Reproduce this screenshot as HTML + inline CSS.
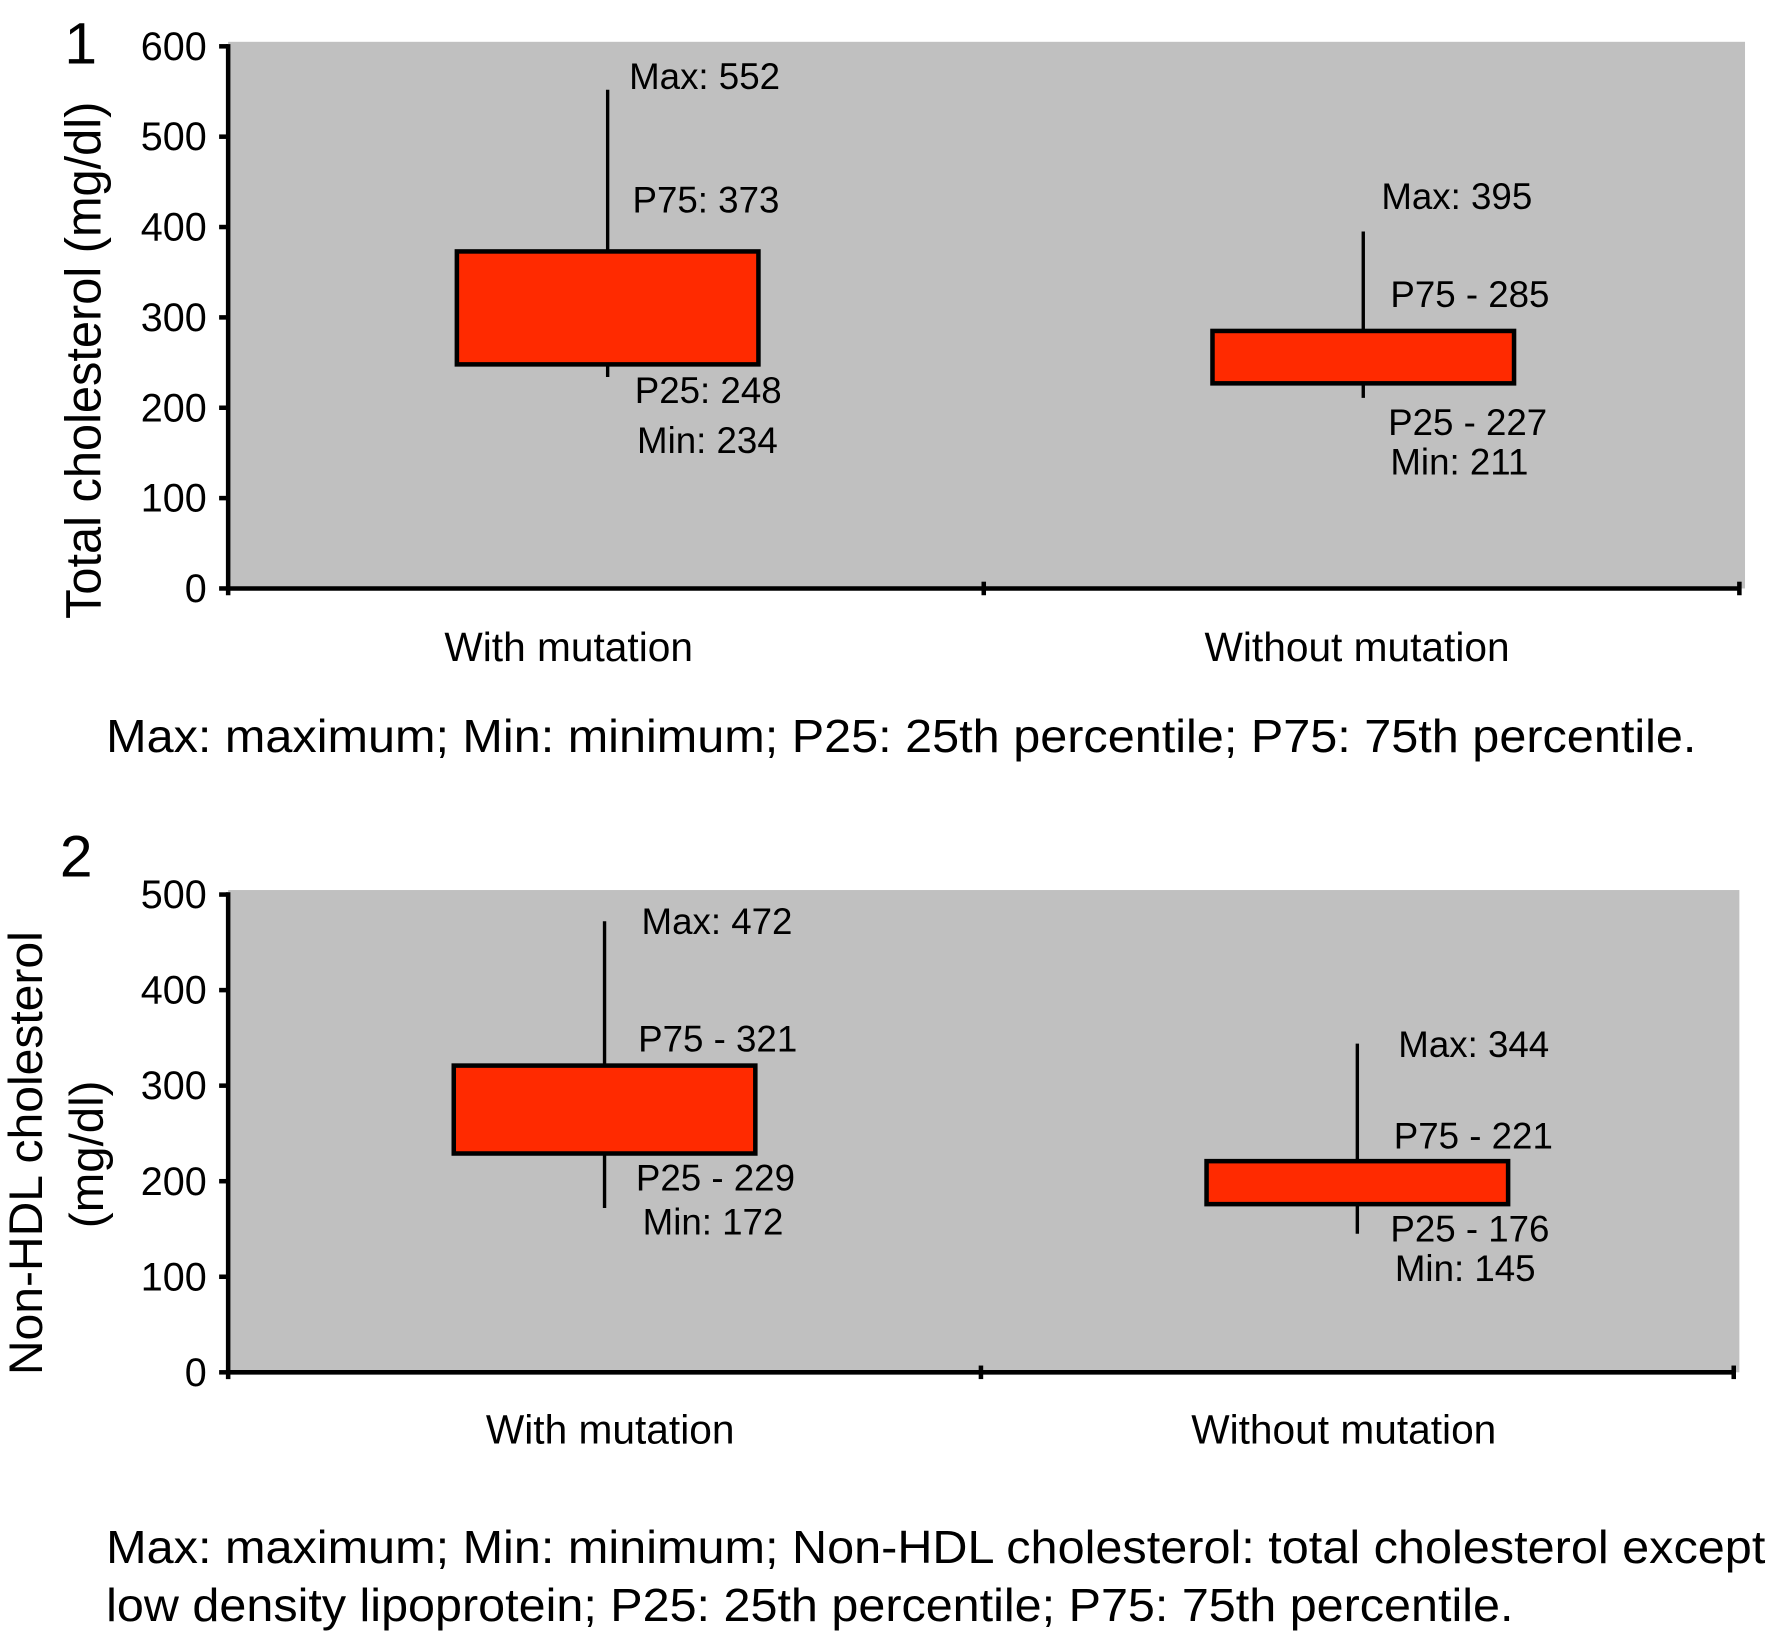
<!DOCTYPE html>
<html><head><meta charset="utf-8"><style>
html,body{margin:0;padding:0;background:#fff}
svg{display:block}
text{font-family:"Liberation Sans",Arial,sans-serif;fill:#000}
</style></head><body>
<svg id="fig" width="1771" height="1646" viewBox="0 0 1568 1457.3" xmlns="http://www.w3.org/2000/svg">
<text x="57" y="56" font-size="52">1</text>
<text x="53" y="776" font-size="52">2</text>
<text transform="translate(89,319) rotate(-90)" text-anchor="middle" font-size="44" textLength="458" lengthAdjust="spacingAndGlyphs">Total cholesterol (mg/dl)</text>
<text transform="translate(37,1021) rotate(-90)" text-anchor="middle" font-size="42" textLength="393" lengthAdjust="spacingAndGlyphs">Non-HDL cholesterol</text>
<text transform="translate(91,1022) rotate(-90)" text-anchor="middle" font-size="42">(mg/dl)</text>
<text x="94" y="666" font-size="41" textLength="1408" lengthAdjust="spacingAndGlyphs">Max: maximum; Min: minimum; P25: 25th percentile; P75: 75th percentile.</text>
<text x="94" y="1384" font-size="41" textLength="1469" lengthAdjust="spacingAndGlyphs">Max: maximum; Min: minimum; Non-HDL cholesterol: total cholesterol except</text>
<text x="94" y="1435" font-size="41" textLength="1246" lengthAdjust="spacingAndGlyphs">low density lipoprotein; P25: 25th percentile; P75: 75th percentile.</text>
</svg>
<script>
// Panel 1 data
const categories1 = ["With mutation", "Without mutation"];
const max1 = [552, 395];
const p75_1 = [373, 285];
const p25_1 = [248, 227];
const min1 = [234, 211];
const labels1 = [["Max: 552","P75: 373","P25: 248","Min: 234"],["Max: 395","P75 - 285","P25 - 227","Min: 211"]];
const ticks1 = [0,100,200,300,400,500,600];
// Panel 2 data
const categories2 = ["With mutation", "Without mutation"];
const max2 = [472, 344];
const p75_2 = [321, 221];
const p25_2 = [229, 176];
const min2 = [172, 145];
const labels2 = [["Max: 472","P75 - 321","P25 - 229","Min: 172"],["Max: 344","P75 - 221","P25 - 176","Min: 145"]];
const ticks2 = [0,100,200,300,400,500];

const NS = "http://www.w3.org/2000/svg";
const svg = document.getElementById('fig');
function mk(tag, attrs, parent){
  const e = document.createElementNS(NS, tag);
  for (const k in attrs) e.setAttribute(k, attrs[k]);
  (parent||svg).appendChild(e);
  return e;
}

function panel(p){
  const g = mk('g', {});
  
  
  const yMax = p.ticks[p.ticks.length-1];
  const y = v => p.y0 - (p.y0 - p.yTop) * v / yMax;
  const band = (p.xEnd - p.x0) / p.cats.length;
  const xc = i => p.x0 + band * (i + 0.5);
  const bg = mk('rect', {x:p.x0, y:p.yTop-4, width:p.xEnd-p.x0+5, height:p.y0-p.yTop+4, fill:'#c0c0c0'}, g);
  
  
  const ya = mk('line', {x1:p.x0, y1:p.yTop-2, x2:p.x0, y2:p.y0+6, stroke:'#000','stroke-width':4}, g);
  
  
  p.ticks.forEach(t => {
    mk('line', {x1:p.x0-8, y1:y(t), x2:p.x0, y2:y(t), stroke:'#000','stroke-width':4}, g);
    const tl = mk('text', {x:p.x0-19, y:y(t)+12, 'font-size':35, 'text-anchor':'end'}, g);
    tl.textContent = t;
    
    
  });
  const xa = mk('line', {x1:p.x0, y1:p.y0, x2:p.xEnd, y2:p.y0, stroke:'#000','stroke-width':4}, g);
  
  
  for (let i = 1; i <= p.cats.length; i++) {
    mk('line', {x1:p.x0+band*i, y1:p.y0-6, x2:p.x0+band*i, y2:p.y0+6, stroke:'#000','stroke-width':4}, g);
  }
  const bw = 267;
  p.cats.forEach((c, i) => {
    const cx = xc(i) + p.boxOff;
    const w = mk('line', {x1:cx, y1:y(p.max[i]), x2:cx, y2:y(p.min[i]), stroke:'#000','stroke-width':3}, g);
    
    
    const b = mk('rect', {x:cx-bw/2, y:y(p.p75[i]), width:bw, height:y(p.p25[i])-y(p.p75[i]), fill:'#ff2a00', stroke:'#000','stroke-width':4}, g);
    
    
    const xl = mk('text', {x:xc(i)+p.labOff[i], y:p.xLabY, 'font-size':36, 'text-anchor':'middle'}, g);
    xl.textContent = c;
    
    
    p.labels[i].forEach((s, k) => {
      const pos = p.labPos[i][k];
      const t = mk('text', {x:pos[0], y:pos[1]+12, 'font-size':32.5}, g);
      t.textContent = s;
      
      
    });
  });
}

panel({id:1, cats:categories1, max:max1, p75:p75_1, p25:p25_1, min:min1, labels:labels1, ticks:ticks1,
  x0:202, xEnd:1540, yTop:41, y0:521, boxOff:1.5, xLabY:585, labOff:[-33,-4],
  labPos:[[[557,67],[560,176],[562,345],[564,389]],[[1223,173],[1231,260],[1229,373],[1231,408]]]});
panel({id:2, cats:categories2, max:max2, p75:p75_2, p25:p25_2, min:min2, labels:labels2, ticks:ticks2,
  x0:202, xEnd:1535, yTop:792, y0:1215, boxOff:0, xLabY:1278, labOff:[5,-12],
  labPos:[[[568,815],[565,919],[563,1042],[569,1081]],[[1238,924],[1234,1005],[1231,1087],[1235,1122]]]});
</script>
</body></html>
